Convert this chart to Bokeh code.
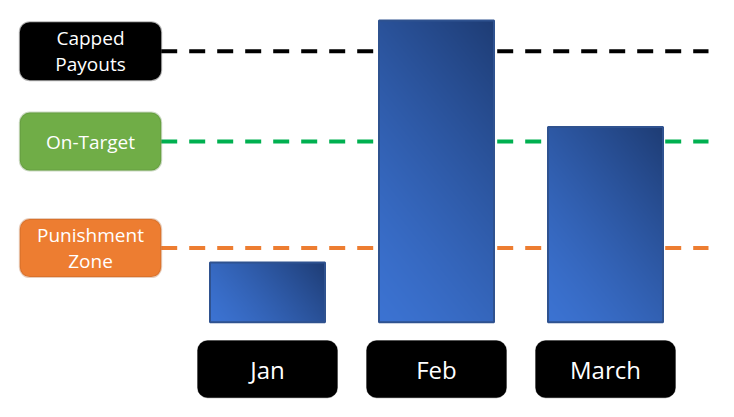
import numpy as np
from bokeh.plotting import figure
from bokeh.models import Range1d, BoxAnnotation
from bokeh.embed import file_html
from bokeh.resources import INLINE
from bokeh.core.properties import value

# ---- data ----
months = ["Jan", "Feb", "March"]
payouts = [33, 167, 108]
level_names = ["Capped\nPayouts", "On-Target", "Punishment\nZone"]
level_values = [150, 100, 41]

# ---- style ----
level_fill = ["#000000", "#70AD47", "#ED7D31"]
level_border = ["#000000", "#548235", "#AE5A21"]
level_line = ["#000000", "#00B050", "#ED7D31"]
bar_border = "#2F528F"
grad_light = np.array([60, 115, 210])
grad_dark = np.array([30, 60, 116])

W, H = 718, 401
PX_X = 169.0          # pixels per category step
X0_PX = 267.0         # pixel position of first category
PX_Y = 1.807          # pixels per value unit
Y0_PX = 79.3          # pixel position of baseline (from bottom)

p = figure(width=W, height=H, output_backend="svg", toolbar_location=None,
           x_axis_type=None, y_axis_type=None, min_border=0,
           x_range=Range1d(-X0_PX / PX_X, (W - X0_PX) / PX_X),
           y_range=Range1d(-Y0_PX / PX_Y, (H - Y0_PX) / PX_Y))
p.outline_line_color = None
p.background_fill_color = "white"
p.border_fill_color = "white"

xs = list(range(len(months)))
bar_w = 115 / PX_X

box_left = (19.3 - X0_PX) / PX_X
box_right = (160.7 - X0_PX) / PX_X
line_end = (708 - X0_PX) / PX_X
box_half_h = 29 / PX_Y

# dashed threshold lines
p.segment(x0=[box_right] * len(level_values), x1=[line_end] * len(level_values),
          y0=level_values, y1=level_values, line_color=level_line,
          line_width=4, line_dash="16 12")

# gradient-filled bars
for x, v in zip(xs, payouts):
    nx = int(round(bar_w * PX_X))
    ny = max(2, int(round(v * PX_Y)))
    u = np.arange(nx)[None, :]
    w = np.arange(ny)[:, None]
    t = (1.0 * u + 0.8 * w) / (1.0 * nx + 0.8 * ny)
    t = np.clip(t, 0, 1) ** 1.3
    img = np.empty((ny, nx), dtype=np.uint32)
    view = img.view(dtype=np.uint8).reshape((ny, nx, 4))
    for k in range(3):
        view[:, :, k] = (grad_light[k] + (grad_dark[k] - grad_light[k]) * t).astype(np.uint8)
    view[:, :, 3] = 255
    p.image_rgba(image=[img], x=x - bar_w / 2, y=0, dw=bar_w, dh=v)

p.vbar(x=xs, top=payouts, bottom=0, width=bar_w, fill_alpha=0,
       line_color=bar_border, line_width=2)

# left label boxes
for val, fc, lc in zip(level_values, level_fill, level_border):
    p.add_layout(BoxAnnotation(left=box_left, right=box_right,
                               bottom=val - box_half_h, top=val + box_half_h,
                               fill_color=fc, fill_alpha=1, line_color=lc,
                               line_width=2, border_radius=10))
t1 = p.text(x=[(box_left + box_right) / 2] * len(level_values), y=level_values,
            text=level_names, text_color="white", text_font=value("Open Sans"),
            text_font_size="19px", text_align="center", text_baseline="middle",
            text_line_height=0.98)
t1.level = "overlay"

# month label boxes
cat_top = -18.3 / PX_Y
cat_bot = -75.6 / PX_Y
cat_half_w = 70 / PX_X
for x in xs:
    p.add_layout(BoxAnnotation(left=x - cat_half_w, right=x + cat_half_w,
                               bottom=cat_bot, top=cat_top,
                               fill_color="black", fill_alpha=1, line_color="black",
                               line_width=1, border_radius=10))
t2 = p.text(x=xs, y=[(cat_top + cat_bot) / 2] * len(xs), text=months,
            text_color="white", text_font=value("Open Sans"), text_font_size="24px",
            text_align="center", text_baseline="middle")
t2.level = "overlay"

open("out.html", "w").write(file_html(p, INLINE))
